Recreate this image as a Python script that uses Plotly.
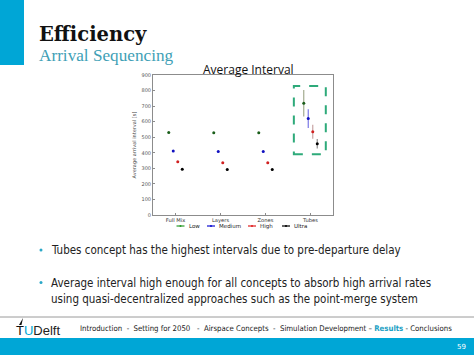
import plotly.graph_objects as go

# ---------------- data ----------------
categories = ["Full Mix", "Layers", "Zones", "Tubes"]
series_names = ["Low", "Medium", "High", "Ultra"]
low_values = [530, 528, 528, 718]
medium_values = [411, 409, 409, 620]
high_values = [342, 336, 336, 535]
ultra_values = [294, 292, 292, 458]
low_err = [0, 0, 0, 85]
medium_err = [0, 0, 0, 60]
high_err = [0, 0, 0, 45]
ultra_err = [0, 0, 0, 30]
y_ticks = [0, 100, 200, 300, 400, 500, 600, 700, 800, 900]
highlight_x = [2.63, 3.34]
highlight_y = [390, 830]

values = [low_values, medium_values, high_values, ultra_values]
errors = [low_err, medium_err, high_err, ultra_err]
offsets = [-0.15, -0.05, 0.05, 0.15]
marker_colors = ["#1a5e1a", "#1010c0", "#d02020", "#000000"]
err_colors = ["#a3ab8f", "#7a78e6", "#c8a4a4", "#8f8f8f"]
legend_colors = ["#2a9a2a", "#1010d0", "#e02020", "#000000"]

# ---------------- layout geometry (pixels) ----------------
W, H = 474, 355
L, R, T, B = 153, 333, 75, 215


def px(x):
    return (x - L) / (R - L)


def py(y):
    return (B - y) / (B - T)


fig = go.Figure()
for name, vals, errs, off, mc, ec in zip(series_names, values, errors, offsets,
                                        marker_colors, err_colors):
    fig.add_trace(go.Scatter(
        x=[i + off for i in range(len(categories))],
        y=vals,
        mode="markers",
        name=name,
        marker=dict(color=mc, size=3),
        error_y=dict(type="data", array=errs, visible=True, color=ec,
                     thickness=1.2, width=0),
        showlegend=False,
    ))

fig.add_shape(type="rect", xref="x", yref="y",
              x0=highlight_x[0], x1=highlight_x[1],
              y0=highlight_y[0], y1=highlight_y[1],
              line=dict(color="#2eaa7a", width=2, dash="dash"))

shapes = []
# top-left blue bar
shapes.append(dict(type="rect", xref="paper", yref="paper",
                   x0=px(0), x1=px(24), y0=py(0), y1=py(65),
                   fillcolor="#00a6d6", line=dict(width=0), layer="below"))
# footer grey line
shapes.append(dict(type="line", xref="paper", yref="paper",
                   x0=px(0), x1=px(474), y0=py(317), y1=py(317),
                   line=dict(color="#9a9a9a", width=1)))
# bottom blue bar
shapes.append(dict(type="rect", xref="paper", yref="paper",
                   x0=px(0), x1=px(474), y0=py(338), y1=py(355),
                   fillcolor="#00a6d6", line=dict(width=0), layer="below"))
# bullets
for yb in [250, 282.5]:
    shapes.append(dict(type="circle", xref="paper", yref="paper",
                       x0=px(39.5), x1=px(42.5), y0=py(yb - 1.5), y1=py(yb + 1.5),
                       fillcolor="#2aa8c8", line=dict(width=0)))
# small flame above the TU logo "T"
shapes.append(dict(type="path", xref="paper", yref="paper",
                   path="M {} {} L {} {} L {} {} Z".format(px(19), py(325), px(23), py(318),
                                                          px(21.5), py(325)),
                   fillcolor="#111111", line=dict(width=0)))

# manual legend
legend_x = [176.5, 207, 248, 282]
legend_y = 226
for lx, name, col in zip(legend_x, series_names, legend_colors):
    shapes.append(dict(type="line", xref="paper", yref="paper",
                       x0=px(lx), x1=px(lx + 8), y0=py(legend_y), y1=py(legend_y),
                       line=dict(color=col, width=1.2)))
    shapes.append(dict(type="circle", xref="paper", yref="paper",
                       x0=px(lx + 3), x1=px(lx + 5), y0=py(legend_y - 1), y1=py(legend_y + 1),
                       fillcolor=col, line=dict(width=0)))

for s in shapes:
    fig.add_shape(**s)

ann = []
ann.append(dict(text="<b>Efficiency</b>", x=px(37), y=py(35),
                font=dict(family="DejaVu Serif, Liberation Serif", size=19.5, color="#111111")))
ann.append(dict(text="Arrival Sequencing", x=px(37), y=py(55.5),
                font=dict(family="Liberation Serif, DejaVu Serif", size=17.2, color="#3f9fb6")))
ann.append(dict(text="Average Interval", x=px(248), y=py(70), xanchor="center",
                font=dict(family="Open Sans, Liberation Sans", size=12, color="#111111")))

bullet_font = dict(family="DejaVu Sans Condensed, DejaVu Sans", size=11.5, color="#222222")
ann.append(dict(text="Tubes concept has the highest intervals due to pre-departure delay",
                x=px(49), y=py(250), font=bullet_font))
ann.append(dict(text="Average interval high enough for all concepts to absorb high arrival rates",
                x=px(49), y=py(282.5), font=bullet_font))
ann.append(dict(text="using quasi-decentralized approaches such as the point-merge system",
                x=px(49), y=py(299), font=bullet_font))

for lx, name in zip(legend_x, series_names):
    ann.append(dict(text=name, x=px(lx + 10), y=py(legend_y),
                    font=dict(family="DejaVu Sans", size=5.5, color="#222222")))

ann.append(dict(text="<span style='color:#111'>T</span><span style='color:#00a6d6'>U</span>Delft",
                x=px(14), y=py(330),
                font=dict(family="Liberation Sans, Arial", size=13, color="#222222")))
ann.append(dict(text="Introduction  -  Setting for 2050   -  Airspace Concepts  -  Simulation Development \u2013 "
                     "<b><span style='color:#1d9fc4'>Results</span></b> - Conclusions",
                x=px(78), y=py(328),
                font=dict(family="DejaVu Sans Condensed, DejaVu Sans", size=7.75, color="#222222")))
ann.append(dict(text="59", x=px(461), y=py(347), xanchor="center",
                font=dict(family="DejaVu Sans", size=7, color="#ffffff")))

for a in ann:
    a.setdefault("xanchor", "left")
    a.setdefault("yanchor", "middle")
    fig.add_annotation(xref="paper", yref="paper", showarrow=False, **a)

fig.update_layout(
    width=W, height=H,
    margin=dict(l=L, r=W - R, t=T, b=H - B, pad=0),
    paper_bgcolor="white", plot_bgcolor="white",
    showlegend=False,
    xaxis=dict(range=[-0.5, 3.5], tickmode="array", tickvals=list(range(len(categories))),
               ticktext=categories, showgrid=False, zeroline=False,
               showline=True, mirror=True, linecolor="#8c8c8c", linewidth=1,
               ticks="inside", ticklen=2, tickcolor="#8c8c8c",
               tickfont=dict(family="DejaVu Sans", size=5.2, color="#333333")),
    yaxis=dict(range=[0, 900], tickmode="array", tickvals=y_ticks,
               showgrid=False, zeroline=False,
               showline=True, mirror=True, linecolor="#8c8c8c", linewidth=1,
               ticks="inside", ticklen=2, tickcolor="#8c8c8c",
               tickfont=dict(family="DejaVu Sans", size=5, color="#555555"),
               title=dict(text="Average arrival interval [s]", standoff=4,
                          font=dict(family="DejaVu Sans", size=5, color="#444444"))),
)

fig.write_html("out.html", config={"displayModeBar": False},
               post_script="document.body.style.margin='0';")
